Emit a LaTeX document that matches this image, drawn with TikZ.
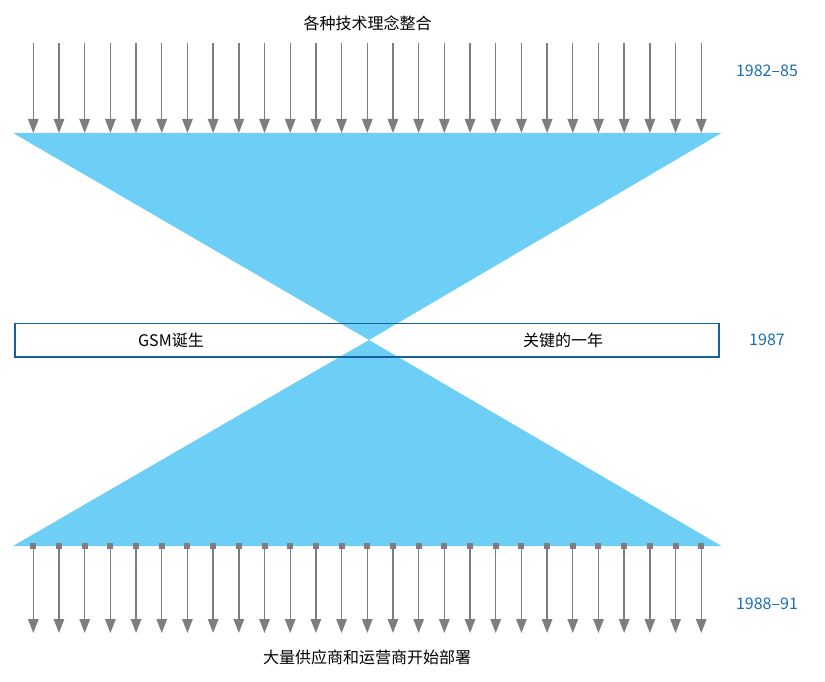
\documentclass[tikz,border=0pt]{standalone}
\usepackage{fontspec}
\setmainfont{Noto Sans CJK SC}
\usetikzlibrary{arrows.meta}
\definecolor{arrowgray}{HTML}{7E7E82}
\definecolor{trifill}{HTML}{6DCFF6}
\definecolor{boxblue}{HTML}{1560A0}
\definecolor{yearblue}{HTML}{1B6DB5}
\tikzset{
  tri/.style={fill=trifill},
  arr/.style={draw=arrowgray, line width=1.4pt, -{Triangle[width=10.5pt,length=14pt]}},
  sq/.style={fill=arrowgray, minimum size=6pt, inner sep=0pt},
  lbl/.style={font=\fontsize{16}{19}\selectfont, text=black, inner sep=0pt},
  yr/.style={font=\fontsize{16}{19}\selectfont, text=yearblue, inner sep=0pt},
  gsmbox/.style={draw=boxblue, line width=1.6pt, minimum width=704pt, minimum height=33.4pt, inner sep=0pt}
}
\begin{document}
\begin{tikzpicture}[x=1pt,y=-1pt]
\useasboundingbox (0,0) rectangle (825,682);
\fill[tri] (13,133) -- (721.5,133) -- (369,340) -- cycle;
\fill[tri] (13,546) -- (721.5,546) -- (369,340) -- cycle;
\foreach \i in {0,...,26} {
  \pgfmathsetmacro\xx{33.3+25.69*\i}
  \coordinate (ts\i) at (\xx,43);
  \coordinate (te\i) at (\xx,133);
  \draw[arr] (ts\i) -- (te\i);
  \coordinate (bs\i) at (\xx,546);
  \coordinate (be\i) at (\xx,633);
  \draw[arr] (bs\i) -- (be\i);
  \node[sq] (bq\i) at (bs\i) {};
}
\node[gsmbox] (box) at (367,340) {};
\node[lbl] (top) at (367.5,23) {各种技术理念整合};
\node[lbl] (bottom) at (367,657) {大量供应商和运营商开始部署};
\node[lbl] (gsm) at (171,340) {GSM诞生};
\node[lbl] (key) at (563,340) {关键的一年};
\node[yr] (y1) at (767,71) {1982–85};
\node[yr] (y2) at (767,340) {1987};
\node[yr] (y3) at (767,604) {1988–91};
\end{tikzpicture}
\end{document}
